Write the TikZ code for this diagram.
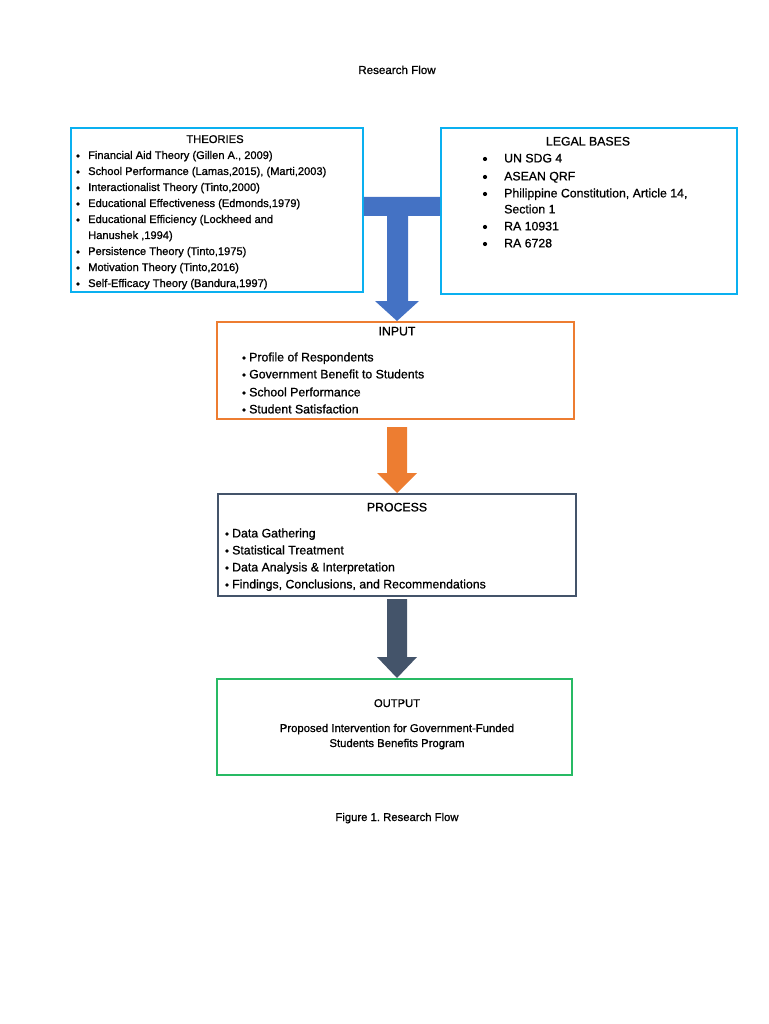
\documentclass[tikz,border=0pt]{standalone}
\usepackage{fontspec}
\setmainfont[FakeBold=0.9]{Liberation Sans}
\usetikzlibrary{calc}
\usetikzlibrary{positioning}

\definecolor{legalcyan}{RGB}{10,176,240}
\definecolor{inputorange}{RGB}{237,125,49}
\definecolor{processslate}{RGB}{68,84,106}
\definecolor{outputgreen}{RGB}{40,186,100}
\definecolor{arrowblue}{RGB}{68,114,196}

\tikzset{
 box/.style={draw, line width=1.8pt, anchor=north west, inner sep=0},
 head/.style={anchor=base, inner sep=0, font=\fontsize{12.3}{14}\selectfont},
 item/.style={anchor=base west, inner sep=0, font=\fontsize{12.3}{14}\selectfont},
 smallitem/.style={item, font=\fontsize{11.1}{13}\selectfont},
 dot/.style={fill, circle, inner sep=0, minimum size=3.8},
}

\begin{document}
\frenchspacing
\begin{tikzpicture}[x=1pt,y=-1pt]
\useasboundingbox (0,0) rectangle (768,1024);

\node[head, font=\fontsize{11.6}{14}\selectfont] (title) at (397,74) {Research Flow};

% boxes
\node[box, draw=legalcyan, minimum width=292, minimum height=164] (theories) at (70,127) {};
\node[box, draw=legalcyan, minimum width=296, minimum height=166] (legal) at (440,127) {};
\node[box, draw=inputorange, minimum width=357, minimum height=97] (input) at (216,321) {};
\node[box, draw=processslate, minimum width=358, minimum height=102] (process) at (217,493) {};
\node[box, draw=outputgreen, minimum width=355, minimum height=96] (output) at (216,678) {};

% theories
\node[head, font=\fontsize{11.2}{13}\selectfont] (theorieshead) at (215,143) {THEORIES};
\foreach \y/\t in {155/{Financial Aid Theory (Gillen A., 2009)},
                   171/{School Performance (Lamas,2015), (Marti,2003)},
                   187/{Interactionalist Theory (Tinto,2000)},
                   203/{Educational Effectiveness (Edmonds,1979)},
                   219/{Educational Efficiency (Lockheed and},
                   251/{Persistence Theory (Tinto,1975)},
                   267/{Motivation Theory (Tinto,2016)},
                   283/{Self-Efficacy Theory (Bandura,1997)}} {
 \node[dot, minimum size=3.6] (thdot\y) at (78,\y+1) {};
 \node[smallitem] (th\y) at (88,\y+4) {\t};
}
\node[smallitem] (th235) at (88,239) {Hanushek ,1994)};

% legal bases
\node[head] (legalhead) at (588,145.5) {LEGAL BASES};
\foreach \y/\t in {158/{UN SDG 4},
                   176/{ASEAN QRF},
                   193/{Philippine Constitution, Article 14,},
                   226/{RA 10931},
                   243/{RA 6728}} {
 \node[dot, minimum size=4.2] (lgdot\y) at (485,\y+1) {};
 \node[item] (lg\y) at (504,\y+4.4) {\t};
}
\node[item] (lg209) at (504,213.4) {Section 1};

% input
\node[head] (inputhead) at (397,335.4) {INPUT};
\foreach \y/\t in {357/{Profile of Respondents},
                   374/{Government Benefit to Students},
                   392/{School Performance},
                   409/{Student Satisfaction}} {
 \node[dot] (indot\y) at (244,\y+1) {};
 \node[item] (in\y) at (249,\y+4.4) {\t};
}

% process
\node[head] (processhead) at (397,511.4) {PROCESS};
\foreach \y/\t in {533/{Data Gathering},
                   550/{Statistical Treatment},
                   567/{Data Analysis \& Interpretation},
                   584/{Findings, Conclusions, and Recommendations}} {
 \node[dot] (prdot\y) at (227,\y+1) {};
 \node[item] (pr\y) at (232,\y+4.4) {\t};
}

% output
\node[head, font=\fontsize{11.2}{13}\selectfont] (outputhead) at (397,707) {OUTPUT};
\node[head, font=\fontsize{11.3}{13}\selectfont] (outputtext) at (397,732) {Proposed Intervention for Government-Funded};
\node[head, font=\fontsize{11.3}{13}\selectfont] (outputtext2) at (397,747) {Students Benefits Program};

\node[head, font=\fontsize{11.3}{13}\selectfont] (caption) at (397,821) {Figure 1. Research Flow};

% block arrows
\coordinate (bartop) at (0,197);
\coordinate (barbot) at (0,216);
\coordinate (tipx) at (397,0);
\fill[arrowblue] (theories.east |- bartop) -- (legal.west |- bartop) -- (legal.west |- barbot)
 -- (408,216) -- (408,301) -- (419,301) -- (tipx |- input.north) -- (375,301) -- (387,301)
 -- (387,216) -- (theories.east |- barbot) -- cycle;
\fill[inputorange] (387,427) -- (407,427) -- (407,473) -- (417,473) -- (tipx |- process.north)
 -- (377,473) -- (387,473) -- cycle;
\fill[processslate] (387,599) -- (407,599) -- (407,657) -- (417,657) -- (tipx |- output.north)
 -- (377,657) -- (387,657) -- cycle;
\end{tikzpicture}
\end{document}
